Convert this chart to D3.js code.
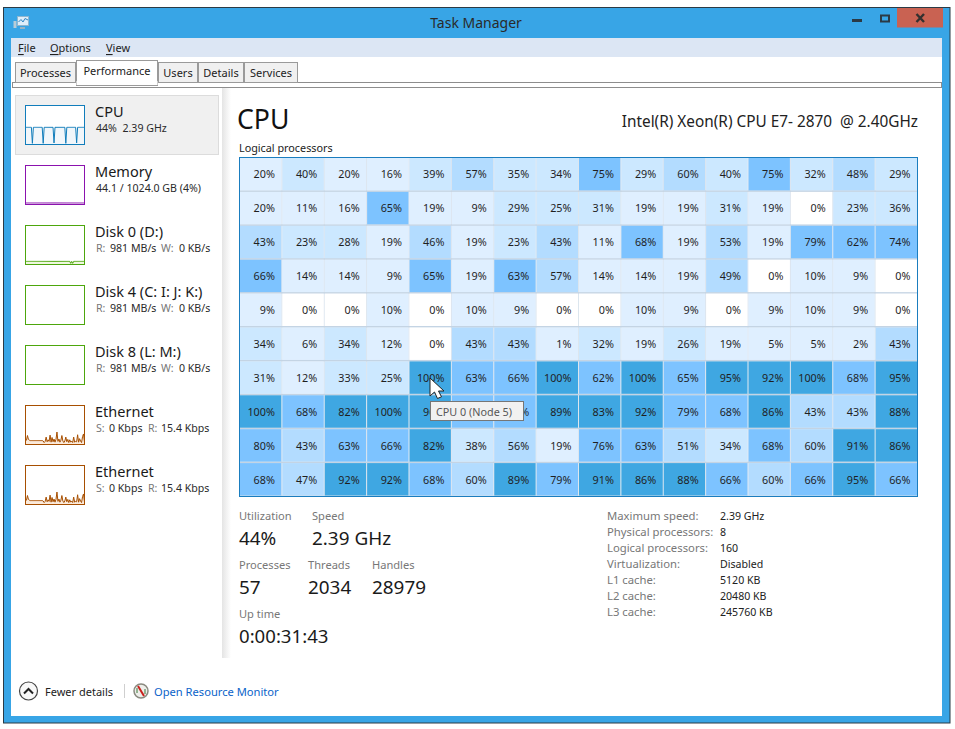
<!DOCTYPE html>
<html>
<head>
<meta charset="utf-8">
<title>Task Manager</title>
<script src="https://cdn.jsdelivr.net/npm/d3@7"></script>
<style>
html, body { margin: 0; padding: 0; background: #fff; }
svg { display: block; }
text { font-family: "Noto Sans", "Open Sans", sans-serif; dominant-baseline: central; }
</style>
</head>
<body>
<div id="chart_area"></div>
<script>
// Utilization of each logical processor, one list per row of the grid
var row0 = [20, 40, 20, 16, 39, 57, 35, 34, 75, 29, 60, 40, 75, 32, 48, 29];
var row1 = [20, 11, 16, 65, 19, 9, 29, 25, 31, 19, 19, 31, 19, 0, 23, 36];
var row2 = [43, 23, 28, 19, 46, 19, 23, 43, 11, 68, 19, 53, 19, 79, 62, 74];
var row3 = [66, 14, 14, 9, 65, 19, 63, 57, 14, 14, 19, 49, 0, 10, 9, 0];
var row4 = [9, 0, 0, 10, 0, 10, 9, 0, 0, 10, 9, 0, 9, 10, 9, 0];
var row5 = [34, 6, 34, 12, 0, 43, 43, 1, 32, 19, 26, 19, 5, 5, 2, 43];
var row6 = [31, 12, 33, 25, 100, 63, 66, 100, 62, 100, 65, 95, 92, 100, 68, 95];
var row7 = [100, 68, 82, 100, 96, 68, 66, 89, 83, 92, 79, 68, 86, 43, 43, 88];
var row8 = [80, 43, 63, 66, 82, 38, 56, 19, 76, 63, 51, 34, 68, 60, 91, 86];
var row9 = [68, 47, 92, 92, 68, 60, 89, 79, 91, 86, 88, 66, 60, 66, 95, 66];
var grid_rows = [row0, row1, row2, row3, row4, row5, row6, row7, row8, row9];

// Colour steps of the heat map
var heat_steps = [1, 21, 41, 61, 81];
var heat_colors = ["#ffffff", "#dfefff", "#cce8ff", "#b3dcff", "#7dc3ff", "#3fa7e2"];

// Sidebar history graphs, last 60 seconds
var cpu_history = [44, 44, 44, 44, 44, 44, 44, 3, 44, 44, 44, 44, 44, 44, 44, 44, 44, 44, 3, 44, 44, 44, 44, 44, 44, 44, 44, 44, 44, 4, 44, 44, 44, 44, 44, 44, 44, 44, 44, 44, 44, 3, 44, 44, 44, 44, 44, 44, 44, 44, 44, 44, 4, 44, 44, 44, 44, 44, 44, 44, 44];
var memory_history = [4, 4, 4, 4, 4, 4, 4, 4, 4, 4, 4, 4, 4, 4, 4, 4, 4, 4, 4, 4, 4, 4, 4, 4, 4, 4, 4, 4, 4, 4, 4, 4, 4, 4, 4, 4, 4, 4, 4, 4, 4, 4, 4, 4, 4, 4, 4, 4, 4, 4, 4, 4, 4, 4, 4, 4, 4, 4, 4, 4, 4];
var disk0_history = [8, 8, 8, 8, 8, 8, 8, 8, 8, 8, 8, 8, 8, 8, 8, 8, 8, 8, 8, 8, 8, 8, 8, 8, 8, 8, 8, 8, 8, 8, 8, 8, 8, 8, 8, 8, 8, 8, 8, 8, 8, 8, 8, 8, 8, 8, 3, 8, 3, 8, 8, 8, 8, 8, 8, 8, 8, 8, 8, 8, 8];
var flat_history = [0, 0, 0, 0, 0, 0, 0, 0, 0, 0, 0, 0, 0, 0, 0, 0, 0, 0, 0, 0, 0, 0, 0, 0, 0, 0, 0, 0, 0, 0, 0, 0, 0, 0, 0, 0, 0, 0, 0, 0, 0, 0, 0, 0, 0, 0, 0, 0, 0, 0, 0, 0, 0, 0, 0, 0, 0, 0, 0, 0, 0];
var ethernet_history = [12, 11, 23, 13, 11, 10, 10, 10, 10, 10, 10, 10, 10, 10, 10, 10, 10, 10, 9, 5, 8, 19, 7, 12, 8, 24, 6, 18, 7, 14, 6, 13, 32, 8, 14, 6, 11, 23, 9, 5, 9, 19, 7, 13, 5, 12, 6, 9, 5, 19, 6, 8, 7, 25, 6, 15, 9, 5, 20, 27, 6];

// Sidebar labels
var device_names = ["CPU", "Memory", "Disk 0 (D:)", "Disk 4 (C: I: J: K:)", "Disk 8 (L: M:)", "Ethernet", "Ethernet"];
var device_series = [cpu_history, memory_history, disk0_history, flat_history, flat_history, ethernet_history, ethernet_history];
var device_lines = ["#117dbb", "#8b12ae", "#4da60c", "#4da60c", "#4da60c", "#a74f01", "#a74f01"];
var device_fills = ["#f1f6fa", "#f4f2f4", "#eff7df", "#eff7df", "#eff7df", "#fbeadb", "#fbeadb"];

// Static text
var tab_names = ["Processes", "Performance", "Users", "Details", "Services"];
var tab_edges = [15, 76, 158, 198, 244, 298];
var spec_labels = ["Maximum speed:", "Physical processors:", "Logical processors:", "Virtualization:", "L1 cache:", "L2 cache:", "L3 cache:"];
var spec_values = ["2.39 GHz", "8", "160", "Disabled", "5120 KB", "20480 KB", "245760 KB"];

var frame_width = 955;
var frame_height = 729;

var frame = d3.select("#chart_area").append("svg")
	.attr("width", frame_width)
	.attr("height", frame_height);

function box(parent, x, y, w, h, fill, stroke) {
	return parent.append("rect")
		.attr("x", x).attr("y", y)
		.attr("width", w).attr("height", h)
		.attr("fill", fill)
		.attr("stroke", stroke || "none");
}

function label(parent, x, y, str, size, color, anchor) {
	return parent.append("text")
		.attr("x", x).attr("y", y)
		.attr("font-size", size)
		.attr("fill", color)
		.attr("text-anchor", anchor || "start")
		.text(str);
}

// Window frame
box(frame, 3.5, 7.5, 946.5, 715.5, "#38a5e6", "#2b3a45");
box(frame, 11, 38, 931, 678, "#ffffff");
box(frame, 11, 38, 931, 19, "#dce6f4");

// Title bar
label(frame, 476, 22, "Task Manager", 14, "#2a2a2a", "middle");
box(frame, 17.5, 16.5, 11, 9, "#dfeefa", "#8fb6cf");
frame.append("path").attr("d", "M18.5 22 L21 19.5 L23 22 L25 18.5 L28 20").attr("fill", "none").attr("stroke", "#2f86c4");
box(frame, 13.5, 21, 3, 7, "#b8ccd8");
box(frame, 20, 27, 5, 2, "#9ab3c2");
box(frame, 852, 19, 10, 3, "#2b3a45");
box(frame, 881, 15.5, 8, 6, "none", "#2b3a45").attr("stroke-width", 2);
box(frame, 897, 8, 46, 19.5, "#c96252");
frame.append("path").attr("d", "M916.5 14 L924 22 M924 14 L916.5 22").attr("stroke", "#33302f").attr("stroke-width", 2.4);

// Menu
var menu = frame.append("g");
[["File", 18], ["Options", 50], ["View", 106]].forEach(function(m) {
	var t = label(menu, m[1], 47, "", 11, "#222");
	t.append("tspan").attr("text-decoration", "underline").text(m[0][0]);
	t.append("tspan").text(m[0].slice(1));
});

// Tabs
var tabs = frame.append("g");
box(tabs, 12.5, 82.5, 929, 5, "#ffffff", "#8d8d8d");
tab_names.forEach(function(name, i) {
	var active = i == 1;
	var top = active ? 60.5 : 62.5;
	box(tabs, tab_edges[i] + 0.5, top, tab_edges[i + 1] - tab_edges[i] - 1, active ? 25 : 20, active ? "#ffffff" : "#f0f0f0", "#9a9a9a");
	label(tabs, (tab_edges[i] + tab_edges[i + 1]) / 2, active ? 70 : 72, name, 11, "#222", "middle");
});
box(tabs, 76.5, 81, 81, 4, "#ffffff");

// Sidebar
var sidebar = frame.append("g");
box(sidebar, 15.5, 95.5, 203, 59, "#f0f0f0", "#dcdcdc");

var xHistory = d3.scaleLinear().domain([0, 60]).range([25.5, 84.5]);
var yHistory = d3.scaleLinear().domain([0, 100]).range([144.5, 105.5]);
var historyArea = d3.area()
	.x(function(d, i) { return xHistory(i); })
	.y0(yHistory(0))
	.y1(function(d) { return yHistory(d); });
var historyLine = d3.line()
	.x(function(d, i) { return xHistory(i); })
	.y(function(d) { return yHistory(d); });

device_names.forEach(function(name, i) {
	var g = sidebar.append("g").attr("transform", "translate(0," + (60 * i) + ")");
	box(g, 25.5, 105.5, 59, 39, "#ffffff");
	g.append("path").datum(device_series[i]).attr("d", historyArea).attr("fill", device_fills[i]);
	g.append("path").datum(device_series[i]).attr("d", historyLine).attr("fill", "none").attr("stroke", device_lines[i]);
	box(g, 25.5, 105.5, 59, 39, "none", device_lines[i]);
	label(g, 95, 111, name, 14.5, "#1a1a1a");
});

// Sidebar readings
label(sidebar, 96, 127.5, "44%\u00a0\u00a02.39 GHz", 10.6, "#2a2a2a");
label(sidebar, 96, 187.5, "44.1 / 1024.0 GB (4%)", 10.6, "#2a2a2a");
[247.5, 307.5, 367.5].forEach(function(y) {
	label(sidebar, 96, y, "R:", 10.6, "#777");
	label(sidebar, 110, y, "981 MB/s", 10.6, "#2a2a2a");
	label(sidebar, 161, y, "W:", 10.6, "#777");
	label(sidebar, 179, y, "0 KB/s", 10.6, "#2a2a2a");
});
[427.5, 487.5].forEach(function(y) {
	label(sidebar, 96, y, "S:", 10.6, "#777");
	label(sidebar, 109, y, "0 Kbps", 10.6, "#2a2a2a");
	label(sidebar, 148, y, "R:", 10.6, "#777");
	label(sidebar, 161, y, "15.4 Kbps", 10.6, "#2a2a2a");
});

// Divider between sidebar and detail pane
var defs = frame.append("defs");
var shade = defs.append("linearGradient").attr("id", "pane_shade");
shade.append("stop").attr("offset", 0).attr("stop-color", "#e4e4e4");
shade.append("stop").attr("offset", 1).attr("stop-color", "#ffffff");
box(frame, 222, 88, 9, 570, "url(#pane_shade)");

// Heading
label(frame, 237, 119, "CPU", 26.6, "#111");
label(frame, 918, 120.5, "Intel(R) Xeon(R) CPU E7- 2870\u00a0\u00a0@ 2.40GHz", 15.35, "#222", "end");
label(frame, 239, 147.5, "Logical processors", 10.8, "#222");

// Heat map
var cols = d3.range(16);
var rows = d3.range(10);
var xScale = d3.scaleBand().domain(cols).range([239.5, 917.5]);
var yScale = d3.scaleBand().domain(rows).range([157.5, 496.5]);
var heatScale = d3.scaleThreshold().domain(heat_steps).range(heat_colors);

var heat = frame.append("g");
box(heat, 239.5, 157.5, 678, 339, "#c4d4e4");

var cell = heat.selectAll(".row")
	.data(grid_rows)
	.enter().append("g")
	.attr("class", "row")
	.attr("transform", function(d, r) { return "translate(0," + yScale(r) + ")"; })
	.selectAll(".cell")
	.data(function(d) { return d; })
	.enter().append("g")
	.attr("class", "cell")
	.attr("transform", function(d, c) { return "translate(" + xScale(c) + ",0)"; });

// Vertical gaps are paler than the horizontal ones
cell.append("rect")
	.attr("y", 0.5)
	.attr("width", xScale.bandwidth())
	.attr("height", yScale.bandwidth() - 1.5)
	.attr("fill", "#e4ebf2");

cell.append("rect")
	.attr("x", 0.5)
	.attr("y", 0.5)
	.attr("width", xScale.bandwidth() - 1)
	.attr("height", yScale.bandwidth() - 1.5)
	.attr("fill", function(d) { return heatScale(d); });

cell.append("text")
	.attr("x", xScale.bandwidth() - 7)
	.attr("y", yScale.bandwidth() / 2 - 0.5)
	.attr("text-anchor", "end")
	.attr("font-size", 10.8)
	.attr("fill", "#1f1f1f")
	.text(function(d) { return d + "%"; });

box(heat, 239.5, 157.5, 678, 339, "none", "#1a7dbf");

// Tooltip and mouse pointer
box(frame, 430.5, 401.5, 93, 19, "#f1f1f1", "#767676");
label(frame, 436, 411, "CPU 0 (Node 5)", 10.8, "#575757");
frame.append("path")
	.attr("d", "M430 378 L430 396 L434.5 392 L437.5 398.5 L441.5 396.8 L438.5 391 L444 391 Z")
	.attr("fill", "#ffffff")
	.attr("stroke", "#222");

// Stats below the grid
var stats = frame.append("g");
label(stats, 239, 515.3, "Utilization", 11.1, "#777");
label(stats, 312, 515.3, "Speed", 11.1, "#777");
label(stats, 239, 537.5, "44%", 18.9, "#1a1a1a");
label(stats, 312, 537.5, "2.39 GHz", 18.9, "#1a1a1a");
label(stats, 239, 564.3, "Processes", 11.1, "#777");
label(stats, 308, 564.3, "Threads", 11.1, "#777");
label(stats, 372, 564.3, "Handles", 11.1, "#777");
label(stats, 239, 586.5, "57", 18.9, "#1a1a1a");
label(stats, 308, 586.5, "2034", 18.9, "#1a1a1a");
label(stats, 372, 586.5, "28979", 18.9, "#1a1a1a");
label(stats, 239, 613.3, "Up time", 11.1, "#777");
label(stats, 239, 635.5, "0:00:31:43", 18.6, "#1a1a1a");

spec_labels.forEach(function(str, i) {
	label(stats, 607, 515.3 + 16 * i, str, 11.3, "#777");
	label(stats, 720, 516 + 16 * i, spec_values[i], 10.6, "#222");
});

// Footer
var footer = frame.append("g");
footer.append("circle").attr("cx", 28.5).attr("cy", 691).attr("r", 9).attr("fill", "#f8f8f8").attr("stroke", "#444").attr("stroke-width", 1.2);
footer.append("path").attr("d", "M24 693.5 L28.5 689 L33 693.5").attr("fill", "none").attr("stroke", "#222").attr("stroke-width", 2);
label(footer, 45, 691, "Fewer details", 11, "#222");
box(footer, 124, 684, 1, 14, "#cfcfcf");
footer.append("circle").attr("cx", 141).attr("cy", 691).attr("r", 7).attr("fill", "#eeeeea").attr("stroke", "#8a8a80").attr("stroke-width", 1.5);
footer.append("path").attr("d", "M138 686 L144 696").attr("stroke", "#c8201c").attr("stroke-width", 2);
footer.append("path").attr("d", "M137 693 L137 688 M145 689 L145 694").attr("stroke", "#3a7a3a").attr("stroke-width", 1);
label(footer, 154, 691, "Open Resource Monitor", 11.15, "#0a63c9");
</script>
</body>
</html>
